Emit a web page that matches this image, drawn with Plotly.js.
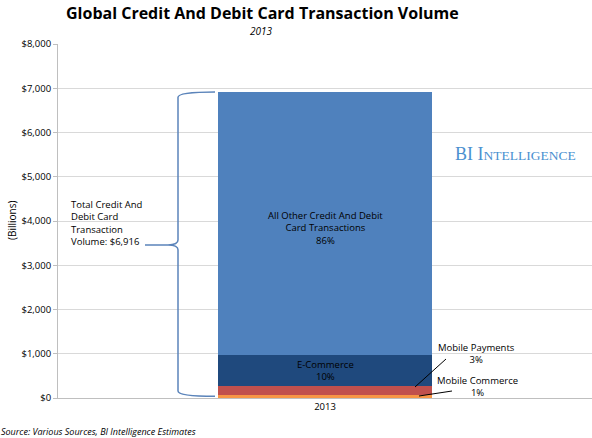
<!DOCTYPE html>
<html><head><meta charset="utf-8">
<script src="https://cdn.plot.ly/plotly-3.0.1.min.js"></script>
<style>body{margin:0;padding:0;background:#fff}#chart{width:592px;height:438px}</style>
</head><body><div id="chart"></div>
<script>
const categories = ['2013'];
const segmentNames = ['Mobile Commerce', 'Mobile Payments', 'E-Commerce', 'All Other Credit And Debit Card Transactions'];
const segmentValues = [69, 207, 692, 5948];
const segmentPct = ['1%', '3%', '10%', '86%'];
const segmentColors = ['#F79646', '#C0504D', '#1F497D', '#4F81BD'];
const total = 6916;
const yTickVals = [0,1000,2000,3000,4000,5000,6000,7000,8000];
const yTickText = ['$0','$1,000','$2,000','$3,000','$4,000','$5,000','$6,000','$7,000','$8,000'];

const traces = segmentValues.map((v,i)=>({
  type:'bar', x:categories, y:[v], name:segmentNames[i], width:0.4,
  marker:{color:segmentColors[i]}, hoverinfo:'skip'
}));

const F = 'Open Sans, Liberation Sans, sans-serif';
// pixel helpers (plot area: x 58..592, y 44..398)
const px = p => (p-58)/534;
const py = p => (398-p)/354;

let cum = [];
segmentValues.reduce((a,v,i)=>{cum[i]=a+v;return a+v;},0);

const A = (o) => Object.assign({showarrow:false,xanchor:'center',yanchor:'middle',borderpad:0,font:{family:F,size:9.5,color:'#000'}}, o);
const annotations = [
  A({xref:'paper',yref:'paper',x:px(262),y:py(13),text:'<b>Global Credit And Debit Card Transaction Volume</b>',font:{family:F,size:16,color:'#000'}}),
  A({xref:'paper',yref:'paper',x:px(261),y:py(31),text:'<i>2013</i>',font:{family:F,size:10,color:'#000'}}),
  A({xref:'paper',yref:'paper',x:px(0),xanchor:'left',y:py(432),text:'<i>Source: Various Sources, BI Intelligence Estimates</i>',font:{family:F,size:9,color:'#000'}}),
  A({xref:'paper',yref:'paper',x:px(12),y:0.5,text:'(Billions)',textangle:-90,font:{family:F,size:10,color:'#000'}}),
  A({xref:'paper',yref:'y',x:px(70),xanchor:'left',y:total/2,yanchor:'bottom',yshift:-4,align:'left',
   text:'Total Credit And<br>Debit Card<br>Transaction<br>Volume: $'+total.toLocaleString('en-US')}),
  A({xref:'paper',x:0.5,y:cum[3]-segmentValues[3]/2,yshift:-4,text:segmentNames[3].replace('Debit ','Debit<br>')+'<br>'+segmentPct[3]}),
  A({xref:'paper',x:0.5,y:cum[2]-segmentValues[2]/2,text:segmentNames[2]+'<br>'+segmentPct[2]}),
  A({xref:'paper',yref:'paper',x:px(476),y:py(353),text:segmentNames[1]+'<br>'+segmentPct[1]}),
  A({xref:'paper',yref:'paper',x:px(477),y:py(386),text:segmentNames[0]+'<br>'+segmentPct[0]}),
  A({xref:'paper',yref:'paper',x:px(515),y:py(154),text:'BI I<span style="font-size:13.5px">NTELLIGENCE</span>',font:{family:'Liberation Serif, DejaVu Serif, serif',size:18,color:'#4A90D0'}})
];

const bx = px(178), bl = px(215), bt = px(168), bend = px(145);
const yTop = total, yBot = 40, yMid = total/2;
const brace = `M ${bl},${yTop} Q ${bx},${yTop} ${bx},${yTop-120} L ${bx},${yMid+110} Q ${bx},${yMid} ${bt},${yMid} L ${bend},${yMid} M ${bt},${yMid} Q ${bx},${yMid} ${bx},${yMid-110} L ${bx},${yBot+120} Q ${bx},${yBot} ${bl},${yBot}`;

const shapes = [
  {type:'path',xref:'paper',yref:'y',path:brace,line:{color:'#5B84BA',width:1.5}},
  {type:'line',xref:'paper',yref:'paper',x0:px(446),y0:py(359),x1:px(415),y1:py(387),line:{color:'#000',width:1}},
  {type:'line',xref:'paper',yref:'paper',x0:px(452),y0:py(391),x1:px(419),y1:py(396),line:{color:'#000',width:1}}
];

const layout = {
  width:592,height:438,margin:{l:58,r:0,t:44,b:40},
  paper_bgcolor:'#fff',plot_bgcolor:'#fff',
  barmode:'stack',showlegend:false,
  xaxis:{type:'category',range:[-0.5,0.5],autorange:false,showgrid:false,showline:true,linecolor:'#BFBFBF',ticks:'',tickfont:{family:F,size:9.5,color:'#000'}},
  yaxis:{range:[0,8000],autorange:false,tickvals:yTickVals,ticktext:yTickText,showgrid:true,gridcolor:'#D9D9D9',zeroline:false,
    showline:true,linecolor:'#BFBFBF',ticks:'outside',ticklen:4,tickcolor:'#BFBFBF',tickfont:{family:F,size:9.5,color:'#000'}},
  annotations, shapes
};
Plotly.newPlot('chart',traces,layout,{displayModeBar:false,staticPlot:true});
</script></body></html>
